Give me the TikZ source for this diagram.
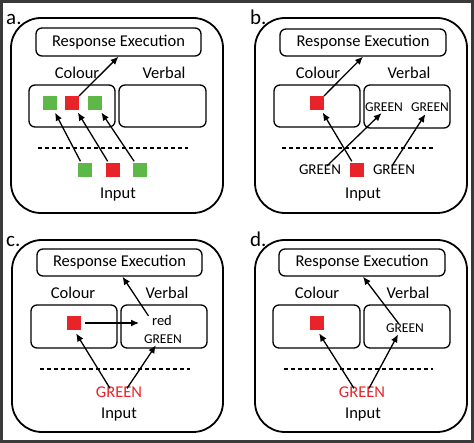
\documentclass[tikz,border=0pt]{standalone}
\usepackage{fontspec}
\setmainfont{Carlito}
\usetikzlibrary{arrows.meta}
\definecolor{sqgreen}{HTML}{5DB847}
\definecolor{sqred}{HTML}{E8242A}
\definecolor{framegray}{HTML}{3A3A3A}
\tikzset{
  outerbox/.style={draw, line width=1.8pt, rounded corners=30pt, inner sep=0},
  boxx/.style={draw, line width=1.3pt, rounded corners=6pt, inner sep=0},
  sq/.style={minimum size=14pt, inner sep=0, outer sep=0},
  gsq/.style={sq, fill=sqgreen},
  rsq/.style={sq, fill=sqred},
  lbl/.style={inner sep=0, font=\fontsize{16.5}{18}\selectfont},
  small/.style={inner sep=0, font=\fontsize{13.5}{15}\selectfont},
  plbl/.style={inner sep=0, anchor=base west, font=\fontsize{21}{22}\selectfont},
  arr/.style={-{Latex[length=8pt,width=7pt]}, line width=1.3pt},
  dashline/.style={line width=1.2pt, dash pattern=on 4pt off 3pt}
}
\begin{document}
\begin{tikzpicture}[x=1pt,y=-1pt]
\fill[white] (0,0) rectangle (474,443);
\useasboundingbox (0,0) rectangle (474,443);
\draw[framegray, line width=3pt] (1.5,1.5) rectangle (472.5,441.5);

% ---------- panel a ----------
\node[outerbox, minimum width=212pt, minimum height=195pt] (aO) at (117,115.5) {};
\node[plbl] (aL) at (6,25) {a.};
\node[boxx, lbl, minimum width=165pt, minimum height=28pt] (aR) at (118.5,42) {Response Execution};
\node[lbl] (aCl) at (77,73) {Colour};
\node[lbl] (aVl) at (164,73) {Verbal};
\node[boxx, minimum width=86pt, minimum height=42pt] (aCb) at (72,106) {};
\node[boxx, minimum width=87pt, minimum height=42pt] (aVb) at (162.5,106) {};
\node[gsq] (ac1) at (50,103) {};
\node[rsq] (ac2) at (72,103) {};
\node[gsq] (ac3) at (95,103) {};
\coordinate (ad1) at (38,148);
\coordinate (ad2) at (188,148);
\draw[dashline] (ad1) -- (ad2);
\node[gsq] (ai1) at (85,170) {};
\node[rsq] (ai2) at (113,170) {};
\node[gsq] (ai3) at (140,170) {};
\node[lbl] (aIn) at (118,195) {Input};
\draw[arr, shorten <=2pt, shorten >=3pt] (ai1) -- (ac1);
\draw[arr, shorten <=2pt, shorten >=3pt] (ai2) -- (ac2);
\draw[arr, shorten <=2pt, shorten >=3pt] (ai3) -- (ac3);
\draw[arr] (ac2) -- (aR.south);

% ---------- panel b ----------
\node[outerbox, minimum width=212pt, minimum height=195pt] (bO) at (361,115.5) {};
\node[plbl] (bL) at (250,25) {b.};
\node[boxx, lbl, minimum width=166pt, minimum height=27pt] (bR) at (363,42.5) {Response Execution};
\node[lbl] (bCl) at (318,73) {Colour};
\node[lbl] (bVl) at (409,73) {Verbal};
\node[boxx, minimum width=86pt, minimum height=42pt] (bCb) at (317,106) {};
\node[boxx, minimum width=86pt, minimum height=43pt] (bVb) at (407,106.5) {};
\node[rsq] (bc1) at (317,103) {};
\node[small] (bv1) at (384,107) {GREEN};
\node[small] (bv2) at (430,107) {GREEN};
\coordinate (bd1) at (282,148);
\coordinate (bd2) at (434,148);
\draw[dashline] (bd1) -- (bd2);
\node[lbl, font=\fontsize{15}{16}\selectfont] (bi1) at (320,170) {GREEN};
\node[rsq] (bi2) at (357,170) {};
\node[lbl, font=\fontsize{15}{16}\selectfont] (bi3) at (394,170) {GREEN};
\node[lbl] (bIn) at (363,195) {Input};
\draw[arr] (bc1) -- (bR.south);
\draw[arr, shorten <=2pt, shorten >=3pt] (bi2) -- (bc1);
\draw[arr, shorten >=2pt] ([xshift=7pt,yshift=-1pt]bi1.north) -- ([xshift=-1pt]bv1.south);
\draw[arr, shorten >=3pt] ([xshift=-2pt,yshift=-1pt]bi3.north) -- ([xshift=-3pt]bv2.south);

% ---------- panel c ----------
\node[outerbox, minimum width=211pt, minimum height=192pt] (cO) at (117.5,336) {};
\node[plbl] (cL) at (6,247) {c.};
\node[boxx, lbl, minimum width=165pt, minimum height=27pt] (cR) at (119.5,262.5) {Response Execution};
\node[lbl] (cCl) at (73,293) {Colour};
\node[lbl] (cVl) at (167,293) {Verbal};
\node[boxx, minimum width=86pt, minimum height=43pt] (cCb) at (74,326.5) {};
\node[boxx, minimum width=86pt, minimum height=43pt] (cVb) at (164,326.5) {};
\node[rsq] (cc) at (74,323) {};
\node[small, font=\fontsize{14.5}{15}\selectfont] (cred) at (162,321) {red};
\node[small] (cg) at (163,339) {GREEN};
\coordinate (ctip) at (139,323);
\draw[arr, shorten <=4pt] (cc) -- (ctip);
\draw[arr, shorten <=1pt] ([xshift=-13pt,yshift=-1pt]cred.north) -- ([xshift=3pt]cR.south);
\coordinate (cd1) at (40,369);
\coordinate (cd2) at (190,369);
\draw[dashline] (cd1) -- (cd2);
\node[lbl, text=sqred] (ci) at (119,392) {GREEN};
\node[lbl] (cIn) at (119,415) {Input};
\draw[arr, shorten >=4pt] ([xshift=-9pt,yshift=-2pt]ci.north) -- (cc.south);
\draw[arr, shorten >=2pt] ([xshift=8pt,yshift=-2pt]ci.north) -- ([xshift=-6pt]cg.south);

% ---------- panel d ----------
\node[outerbox, minimum width=212pt, minimum height=192pt] (dO) at (361,336) {};
\node[plbl] (dL) at (250,247) {d.};
\node[boxx, lbl, minimum width=166pt, minimum height=27pt] (dR) at (362,262.5) {Response Execution};
\node[lbl] (dCl) at (317,293) {Colour};
\node[lbl] (dVl) at (408,293) {Verbal};
\node[boxx, minimum width=87pt, minimum height=43pt] (dCb) at (316.5,326.5) {};
\node[boxx, minimum width=86pt, minimum height=43pt] (dVb) at (407,326.5) {};
\node[rsq] (dc) at (317,323) {};
\node[small] (dg) at (405,328) {GREEN};
\draw[arr, shorten <=2pt] ([xshift=-5pt,yshift=-2pt]dg.north) -- ([xshift=1pt]dR.south);
\coordinate (dd1) at (284,369);
\coordinate (dd2) at (433,369);
\draw[dashline] (dd1) -- (dd2);
\node[lbl, text=sqred] (di) at (362,392) {GREEN};
\node[lbl] (dIn) at (363,415) {Input};
\draw[arr, shorten >=4pt] ([xshift=-8pt,yshift=-2pt]di.north) -- (dc.south);
\draw[arr, shorten >=2pt] ([xshift=7pt,yshift=-2pt]di.north) -- ([xshift=-6pt]dg.south);
\end{tikzpicture}
\end{document}
